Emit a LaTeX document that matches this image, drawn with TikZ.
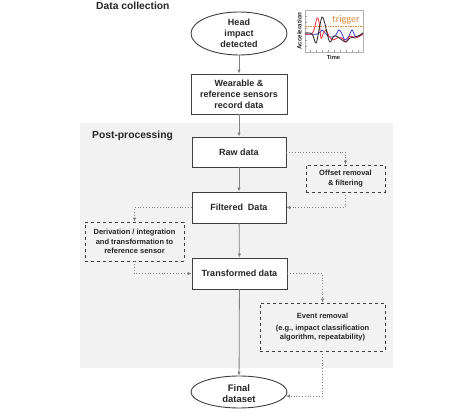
\documentclass[tikz,border=0pt]{standalone}
\usepackage{fontspec}
\setmainfont{Liberation Sans}
\newfontfamily\calfont{Carlito}
\usetikzlibrary{shapes.geometric,arrows.meta,calc}
\definecolor{bggray}{HTML}{F2F2F2}
\definecolor{edgegray}{HTML}{3F3F3F}
\definecolor{linegray}{HTML}{808080}
\definecolor{txtgray}{HTML}{262626}
\definecolor{trigorange}{HTML}{E0883A}
\definecolor{plotred}{HTML}{E8303A}
\definecolor{plotblue}{HTML}{3A3AD0}
\begin{document}
\begin{tikzpicture}[x=1pt,y=-1pt,
  solidbox/.style={draw=edgegray,line width=0.9pt,fill=white,inner sep=0pt,align=center,text=txtgray,
     font=\bfseries\fontsize{9}{11}\selectfont},
  dashbox/.style={draw=edgegray,line width=0.9pt,dashed,fill=bggray,inner sep=0pt,align=center,text=txtgray,
     font=\bfseries\fontsize{7.5}{9.3}\selectfont},
  ellbox/.style={ellipse,draw=edgegray,line width=0.9pt,fill=white,inner sep=0pt},
  ellt/.style={align=center,text=txtgray,inner sep=0pt,font=\bfseries\fontsize{9}{11}\selectfont},
  flow/.style={draw=linegray,line width=0.8pt,-{Latex[length=4pt,width=3.5pt]}},
  dflow/.style={draw=linegray,line width=0.8pt,dotted,-{Latex[length=4pt,width=3.5pt]}},
  title/.style={font=\bfseries\fontsize{10.3}{12}\selectfont,text=txtgray,inner sep=0pt,anchor=west}
]
\useasboundingbox (0,0) rectangle (474,419);
\fill[white] (0,0) rectangle (474,419);
% post-processing background
\fill[bggray] (80,123) rectangle (393,368);

\node[title] (tdc) at (96,6) {Data collection};
\node[title] (tpp) at (92,136) {Post-processing};

% main nodes
\node[ellbox,minimum width=96pt,minimum height=43pt] (head) at (239,33.5) {};
\node[ellt] (headt) at (head.center) {Head\\impact\\detected};
\node[solidbox,minimum width=96pt,minimum height=40pt] (wear) at (239,94) {Wearable \&\\reference sensors\\record data};
\node[solidbox,minimum width=94pt,minimum height=30pt] (raw) at (239,152) {Raw data};
\node[solidbox,minimum width=94pt,minimum height=31pt] (filt) at (239,207.5) {Filtered\ \ Data};
\node[solidbox,minimum width=95pt,minimum height=31pt] (trans) at (239.5,273.5) {Transformed data};
\node[ellbox,minimum width=96pt,minimum height=32pt] (final) at (239,392) {};
\node[ellt,font=\bfseries\fontsize{9.5}{11}\selectfont] (finalt) at (239,393.5) {Final\\dataset};

% side nodes
\node[dashbox,minimum width=79pt,minimum height=27pt] (offset) at (345.5,178.5) {Offset removal\\\& filtering};
\node[dashbox,minimum width=99pt,minimum height=39pt] (deriv) at (134.5,241.5) {Derivation / integration\\and transformation to\\reference sensor};
\node[dashbox,minimum width=125pt,minimum height=48pt] (event) at (322.5,327) {Event removal\\[3pt](e.g., impact classification\\algorithm, repeatability)};

% main flow
\draw[flow] (head) -- (wear);
\draw[flow] (wear) -- (raw);
\draw[flow] (raw) -- (filt);
\draw[flow] (filt) -- (trans);
\draw[flow] (trans) -- (final);

% side flows
\draw[dflow] (raw.east) -| (offset.north);
\draw[dflow] (offset.south) |- (filt.east);
\draw[dflow] (filt.west) -| (deriv.north);
\draw[dflow] (deriv.south) |- (trans.west);
\draw[dflow] (trans.east) -| (event.north);
\draw[dflow] (event.south) |- (final.-5);

% inset plot
\coordinate (pf1) at (305,10);
\coordinate (pf2) at (363,52);
\draw[draw=black!30,line width=0.5pt] (pf1) rectangle (pf2);
\foreach \tx in {310,316,322,328,334,340,346,352,358}
  \draw[black!40,line width=0.3pt] (\tx,52) -- (\tx,50.5);
\foreach \ty in {16,22,28,34,40,46}
  \draw[black!40,line width=0.3pt] (305,\ty) -- (306.5,\ty);
\draw[trigorange,dashed,line width=0.7pt,dash pattern=on 1.5pt off 1pt] (305,26) -- (363,26);
\node[text=trigorange,font=\calfont\fontsize{10}{12}\selectfont,inner sep=0pt] (trig) at (346,19.5) {trigger};
\draw[plotblue,line width=0.8pt] plot[smooth,tension=0.6] coordinates {(305,34) (318,34) (322,30) (326,34) (330,37) (335,36) (339,30) (342,34) (345,40) (349,36) (352,30) (355,36) (358,37) (363,33)};
\draw[plotred,line width=0.8pt] plot[smooth,tension=0.6] coordinates {(305,34) (311,34) (314,30) (317,18) (319,22) (321,38) (323,34) (326,30) (329,36) (333,40) (337,38) (342,38) (346,42) (350,36) (355,38) (360,36) (363,34)};
\draw[black!85,line width=0.8pt] plot[smooth,tension=0.6] coordinates {(305,33) (312,34) (316,43) (319,30) (322,17) (325,24) (327,33) (330,42) (334,36) (338,37) (342,40) (346,42) (350,38) (355,37) (360,35) (363,33)};
\node[rotate=90,font=\bfseries\fontsize{6.2}{7}\selectfont,text=txtgray,inner sep=0pt] (acc) at (299.5,31) {Acceleration};
\node[font=\bfseries\fontsize{5.8}{7}\selectfont,text=txtgray,inner sep=0pt] (time) at (333.5,57.5) {Time};
\end{tikzpicture}
\end{document}
